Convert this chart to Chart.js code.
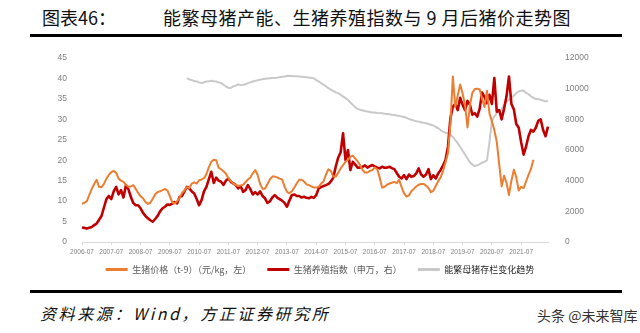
<!DOCTYPE html>
<html>
<head>
<meta charset="utf-8">
<script src="https://cdn.jsdelivr.net/npm/chart.js@4.4.1/dist/chart.umd.min.js"></script>
<style>
  html, body { margin: 0; padding: 0; background: #fff; }
  body { width: 640px; height: 333px; position: relative; overflow: hidden; font-family: "Noto Sans CJK SC", sans-serif; }
  .abs { position: absolute; white-space: nowrap; }
  #fig-no { left: 42px; top: 4px; font-size: 18px; color: #111; }
  #fig-title { left: 163px; top: 4px; font-size: 18px; color: #111; letter-spacing: 0.5px; }
  .rule { position: absolute; left: 30px; width: 592px; height: 3px; background: #000; }
  #source { left: 40px; top: 301px; font-size: 16px; font-style: italic; color: #111; letter-spacing: 2.6px; }
  #mark { left: 537px; top: 305px; font-size: 14px; color: #333; }
  #wrap { position: absolute; left: 0; top: 40px; width: 640px; height: 253px; }
</style>
</head>
<body>
<div id="fig-no" class="abs">图表46：</div>
<div id="fig-title" class="abs">能繁母猪产能、生猪养殖指数与 9 月后猪价走势图</div>
<div class="rule" style="top:34px"></div>
<div id="wrap"><canvas id="c" width="640" height="253"></canvas></div>
<div class="rule" style="top:290px"></div>
<div id="source" class="abs">资料来源：Wind，方正证券研究所</div>
<div id="mark" class="abs">头条 @未来智库</div>
<script>
// monthly axis, 2006-07 .. 2022-06
const firstYear = 2006;
const monthCount = 192;
const yearTickLabels = ['2006-07','2007-07','2008-07','2009-07','2010-07','2011-07','2012-07','2013-07',
  '2014-07','2015-07','2016-07','2017-07','2018-07','2019-07','2020-07','2021-07'];

// 生猪价格 (t-9), 元/kg, left axis
const hogPrice = [
  9.3,9.6,10.0,11.5,13.0,14.2,15.2,13.5,13.4,14.2,15.5,16.4,17.1,17.4,16.9,15.5,15.0,14.7,14.0,13.5,
  13.6,13.9,13.0,12.0,11.2,10.7,9.8,9.3,9.6,10.6,11.7,12.2,12.4,12.7,13.0,12.6,11.2,9.7,9.4,10.0,
  10.8,12.0,12.6,13.4,13.2,14.3,14.6,14.3,15.1,15.3,15.6,16.6,18.3,19.6,20.1,20.0,18.2,17.8,17.3,16.7,
  15.6,14.9,14.3,14.0,13.7,13.8,14.0,14.6,15.3,15.8,16.8,17.6,16.4,14.2,13.0,13.0,14.1,15.3,16.0,16.0,
  15.8,15.5,15.3,13.6,12.3,11.9,12.4,13.3,14.3,15.2,15.2,14.8,14.1,13.9,13.6,13.3,13.3,13.5,14.3,14.8,
  16.5,17.8,17.4,16.0,16.0,16.9,18.0,18.8,19.6,20.1,20.8,21.1,20.4,19.7,18.8,17.6,17.0,17.0,17.4,17.6,
  18.2,17.8,15.8,13.3,13.5,14.0,14.3,14.5,14.7,14.4,15.2,13.4,11.9,11.1,11.4,12.4,13.0,13.6,14.0,14.2,
  14.2,13.8,13.2,12.2,12.5,13.7,14.9,15.8,17.4,19.5,21.7,29.0,40.5,33.0,35.8,38.5,36.3,33.5,28.0,33.5,
  36.5,37.4,37.5,37.3,35.0,33.0,37.0,31.5,29.5,27.4,24.5,19.0,13.6,16.2,14.5,11.5,15.0,17.7,15.8,12.6,
  13.5,13.2,14.8,16.4,17.8,20.1
];

// 生猪养殖指数, right axis
const breedingIndex = [
  950,920,877,930,981,1100,1204,1450,1700,2250,2800,3000,2800,3300,3599,3100,3383,2900,3700,3450,
  2950,2550,2400,2400,2200,1900,1700,1550,1420,1320,1500,1700,2000,2200,2300,2450,2420,2500,2600,2520,
  2944,3000,3300,3599,3500,3300,3167,2800,2401,2728,3300,3600,4100,4580,3850,4200,4000,3926,3720,4000,
  4148,3926,3821,3720,3500,3650,3272,3383,3710,3450,3100,3250,3100,3300,3000,2850,2550,2650,2900,3056,
  2900,2800,2700,2550,2300,2700,3056,3100,3000,3000,2900,2950,2880,2850,2944,2880,3050,3494,3580,3650,
  3710,3780,3950,4200,4907,5500,5850,7093,5346,6000,4691,5234,5050,4850,4850,4907,5000,4850,4950,5018,
  4930,4850,4802,4907,4840,4850,4907,4820,4750,4500,4253,4148,4364,4100,4400,4250,4300,4475,4800,4400,
  4253,4400,4750,4100,4350,4150,4475,4700,5000,5346,6216,8074,8833,9000,8600,9400,8950,8600,9200,8950,
  8300,8400,8179,8700,9750,9450,9055,9600,9000,10700,8500,8600,8000,8700,9500,10796,9000,8650,7700,7450,
  6500,5700,6216,6900,7309,7200,7450,7900,8000,7300,6900,7524
];

// 能繁母猪存栏变化趋势, starts at month index sowStart
const sowStart = 43;
const sowTrend = [
  10691,10600,10560,10500,10469,10410,10364,10420,10469,10490,10515,10490,10469,10410,10364,10260,10142,
  10060,10050,10142,10200,10280,10240,10250,10290,10360,10410,10469,10510,10550,10590,10620,10640,10660,
  10680,10690,10691,10720,10750,10780,10796,10820,10842,10830,10815,10805,10796,10780,10765,10750,10731,
  10700,10680,10560,10469,10360,10253,10150,10037,9930,9850,9760,9710,9600,9500,9380,9271,9100,8944,
  8780,8680,8620,8580,8540,8506,8480,8450,8440,8420,8405,8390,8370,8350,8330,8300,8290,8250,8225,8190,
  8150,8100,8030,7970,7920,7880,7851,7810,7770,7747,7700,7650,7600,7500,7419,7300,7200,7130,7093,7000,
  6850,6650,6450,6200,5950,5700,5450,5200,5050,4953,5000,5080,5180,5234,5340,6500,7900,8200,8400,8506,
  8650,8950,9150,9271,9400,9550,9700,9820,9870,9880,9720,9640,9500,9420,9320,9317,9280,9226,9170,9200
];

const months = [];
for (let i = 0; i < monthCount; i++) {
  const total = 6 + i;
  const y = firstYear + Math.floor(total / 12);
  const m = (total % 12) + 1;
  months.push(y + '-' + String(m).padStart(2, '0'));
}
const sowData = new Array(sowStart).fill(null).concat(sowTrend);

const tickFont = { family: '"Liberation Sans", Arial, sans-serif', size: 8.5 };

// pulls the legend row a little closer to the axis labels
const legendLift = {
  id: 'legendLift',
  afterLayout(chart) {
    const lg = chart.legend;
    if (lg) { lg.top -= 9; lg.bottom -= 9; }
  }
};

new Chart(document.getElementById('c'), {
  type: 'line',
  data: {
    labels: months,
    datasets: [
      { label: '生猪价格（t-9）（元/kg，左）', data: hogPrice, yAxisID: 'y',
        borderColor: '#ED7D31', backgroundColor: '#ED7D31', borderWidth: 2 },
      { label: '生猪养殖指数（申万，右）', data: breedingIndex, yAxisID: 'y1',
        borderColor: '#C00000', backgroundColor: '#C00000', borderWidth: 2.6 },
      { label: '能繁母猪存栏变化趋势', data: sowData, yAxisID: 'y1',
        borderColor: '#C9C9C9', backgroundColor: '#C9C9C9', borderWidth: 2 }
    ]
  },
  plugins: [legendLift],
  options: {
    responsive: false,
    animation: false,
    devicePixelRatio: 1,
    layout: { padding: { top: 18, bottom: 0, left: 0, right: 0 } },
    elements: {
      point: { radius: 0 },
      line: { tension: 0, borderJoinStyle: 'round', spanGaps: false }
    },
    plugins: {
      tooltip: { enabled: false },
      legend: {
        position: 'bottom',
        labels: {
          boxWidth: 22, boxHeight: 3, padding: 16,
          color: '#595959',
          font: { family: '"Noto Sans CJK SC", sans-serif', size: 9 },
          generateLabels(chart) {
            const items = Chart.defaults.plugins.legend.labels.generateLabels(chart);
            items.forEach((it, i) => { it.lineWidth = 0; if (i === 2) it.fontColor = '#262626'; });
            return items;
          }
        }
      }
    },
    scales: {
      x: {
        type: 'category',
        afterFit(scale) { scale.height = 16; },
        border: { display: true, color: '#D9D9D9', width: 1 },
        grid: { display: true, drawOnChartArea: false, drawTicks: true, tickLength: 3, color: '#D9D9D9' },
        ticks: {
          autoSkip: false, maxRotation: 0, minRotation: 0, padding: 3,
          color: '#7F7F7F',
          font: { family: '"Liberation Sans", Arial, sans-serif', size: 6.5 },
          callback(value, index) {
            return index % 12 === 0 ? yearTickLabels[index / 12] : null;
          }
        }
      },
      y: {
        position: 'left', min: 0, max: 45,
        afterFit(scale) { scale.width = 82; },
        border: { display: false },
        grid: { display: false },
        ticks: { stepSize: 5, padding: 7, color: '#7F7F7F', font: tickFont }
      },
      y1: {
        position: 'right', min: 0, max: 12000,
        afterFit(scale) { scale.width = 92; },
        border: { display: false },
        grid: { display: false },
        ticks: { stepSize: 2000, padding: 9, color: '#7F7F7F', font: tickFont,
          callback(value) { return String(value); } }
      }
    }
  }
});
</script>
</body>
</html>
